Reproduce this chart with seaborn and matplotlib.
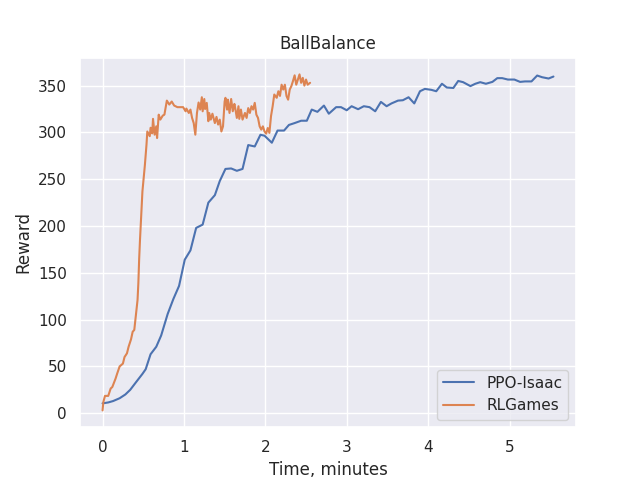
import matplotlib
matplotlib.use("Agg")
import matplotlib.pyplot as plt
import seaborn as sns
import pandas as pd

ppo_time = [0.00, 0.07, 0.13, 0.21, 0.28, 0.34, 0.41, 0.49, 0.53, 0.59, 0.66, 0.72, 0.80, 0.87, 0.94,
            1.01, 1.08, 1.15, 1.23, 1.30, 1.38, 1.44, 1.51, 1.58, 1.65, 1.72, 1.79, 1.87, 1.94, 1.99,
            2.08, 2.15, 2.23, 2.29, 2.36, 2.44, 2.51, 2.57, 2.64, 2.72, 2.78, 2.87, 2.93, 3.00, 3.06,
            3.14, 3.21, 3.28, 3.35, 3.42, 3.49, 3.55, 3.63, 3.69, 3.76, 3.83, 3.90, 3.96, 4.04, 4.10,
            4.17, 4.23, 4.31, 4.37, 4.43, 4.52, 4.58, 4.64, 4.71, 4.79, 4.85, 4.91, 4.98, 5.06, 5.13,
            5.19, 5.27, 5.34, 5.40, 5.48, 5.54]
ppo_reward = [10.5, 11.5, 13, 16, 20, 25, 33, 42, 47, 63, 71, 83, 106, 122, 136,
              164, 174, 198, 201.5, 225, 233, 248, 261, 261.5, 259, 261, 286.5, 285, 297.5, 296.5,
              289, 302, 302, 308, 310, 312.5, 312.5, 324.4, 322, 328.7, 320, 327, 327, 323.7, 328,
              324.8, 328, 327, 322.6, 332.6, 328, 331, 334, 334.4, 337.6, 331, 344, 346.5, 345.5, 344,
              352, 348, 347.5, 355, 353.7, 349.5, 352, 353.7, 352, 354, 358, 358, 356.5, 356.5, 354,
              354.5, 354.5, 360.8, 359, 357.6, 359.7]

rl_time = [0.00, 0.01, 0.03, 0.07, 0.10, 0.12, 0.16, 0.18, 0.21, 0.25, 0.27, 0.30, 0.32, 0.35, 0.37,
           0.39, 0.41, 0.43, 0.44, 0.45, 0.46, 0.49, 0.52, 0.54, 0.55, 0.58, 0.59, 0.61, 0.62, 0.64,
           0.66, 0.67, 0.69, 0.71, 0.74, 0.76, 0.79, 0.82, 0.85, 0.88, 0.92, 0.99, 1.02, 1.03, 1.06,
           1.08, 1.10, 1.12, 1.14, 1.16, 1.18, 1.20, 1.22, 1.23, 1.25, 1.26, 1.28, 1.30, 1.31, 1.33,
           1.35, 1.38, 1.40, 1.42, 1.44, 1.46, 1.48, 1.50, 1.51, 1.53, 1.54, 1.56, 1.58, 1.60, 1.62,
           1.63, 1.65, 1.67, 1.68, 1.70, 1.72, 1.75, 1.77, 1.79, 1.81, 1.83, 1.85, 1.87, 1.89, 1.91,
           1.93, 1.95, 1.97, 1.99, 2.01, 2.03, 2.05, 2.07, 2.09, 2.11, 2.14, 2.16, 2.18, 2.20, 2.22,
           2.24, 2.26, 2.28, 2.30, 2.32, 2.34, 2.36, 2.38, 2.40, 2.42, 2.44, 2.46, 2.48, 2.50, 2.52,
           2.55]
rl_reward = [3, 12, 18.5, 18.5, 26.4, 28, 37, 42.4, 50, 53, 60, 64, 71, 79, 87,
             89, 105, 121, 139, 165, 185, 237, 265, 287, 301, 296, 305, 299, 314.5, 297.6,
             306.5, 294, 319, 313.7, 318, 319, 334, 329.8, 333, 328.7, 327, 327, 322.6, 325.5, 320.8,
             324.4, 315.5, 310, 297.6, 320.8, 332, 324.4, 337.6, 322.6, 335.7, 325, 331.6, 312, 320.8, 313.7,
             320, 310, 316.6, 308.4, 313.7, 301, 306.5, 333, 337, 324.4, 335, 320.8, 335.7, 322.6, 330.5,
             326, 315.5, 328, 314.5, 324.4, 313.7, 320.8, 315.5, 326, 320.8, 328, 324.4, 331.6, 319, 315.5,
             306.5, 303, 306.5, 301, 298.7, 304.7, 299.5, 317.5, 328, 340.5, 337, 344, 339, 351, 345.8,
             351, 339, 335, 345.8, 349.5, 355, 361, 351, 356.5, 362, 353, 358.3, 350, 356.5, 351,
             353]

sns.set_theme(style="darkgrid")

ppo_df = pd.DataFrame({"time": ppo_time, "reward": ppo_reward})
rl_df = pd.DataFrame({"time": rl_time, "reward": rl_reward})

fig, ax = plt.subplots(figsize=(6.4, 4.8), dpi=100)
sns.lineplot(data=ppo_df, x="time", y="reward", ax=ax, label="PPO-Isaac", color="C0")
sns.lineplot(data=rl_df, x="time", y="reward", ax=ax, label="RLGames", color="C1")
ax.set_title("BallBalance")
ax.set_xlabel("Time, minutes")
ax.set_ylabel("Reward")
ax.legend(loc="lower right")
fig.savefig("out.png", dpi=100)
